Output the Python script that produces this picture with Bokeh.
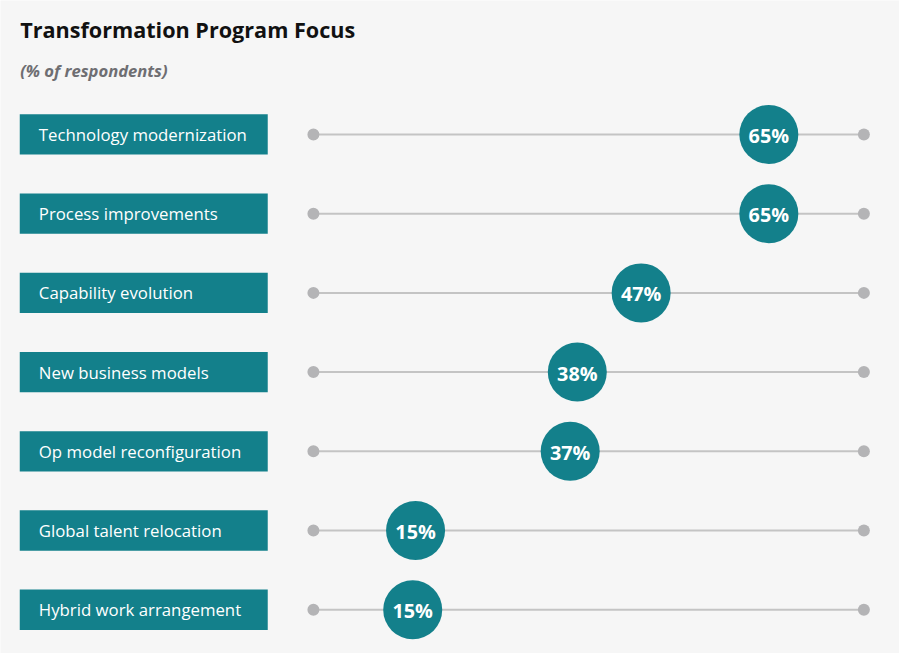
from bokeh.plotting import figure
from bokeh.models import Range1d, Label, ColumnDataSource
from bokeh.core.properties import value
from bokeh.embed import file_html
from bokeh.resources import INLINE

# ---- data ----
categories = [
    "Technology modernization",
    "Process improvements",
    "Capability evolution",
    "New business models",
    "Op model reconfiguration",
    "Global talent relocation",
    "Hybrid work arrangement",
]
values = [65, 65, 47, 38, 37, 15.2, 14.8]
value_labels = ["65%", "65%", "47%", "38%", "37%", "15%", "15%"]
track_start = 0.8
track_end = 78.4

title_text = "Transformation Program Focus"
subtitle_text = "(% of respondents)"

# ---- style / layout ----
W, H = 899, 653
SX, SY = W / 915, H / 669
BG = "#f6f6f6"
TEAL = "#13808b"
TRACK = "#c4c4c4"
DOT = "#b4b4b6"
FONT = "Open Sans"

scale = 7.22 * SX
off = 312.7 * SX
row_px0 = 137.2 * SY
row_step = 81.17 * SY

x0 = -off / scale
x1 = (W - off) / scale
y_top = -row_px0 / row_step
y_bot = (H - row_px0) / row_step

p = figure(width=W, height=H, output_backend="svg", toolbar_location=None,
           x_range=Range1d(x0, x1), y_range=Range1d(y_bot, y_top),
           min_border=0, min_border_left=0, min_border_right=0,
           min_border_top=0, min_border_bottom=0)
p.extra_x_ranges = {"px": Range1d(0, W)}
p.background_fill_color = BG
p.border_fill_color = BG
p.outline_line_color = None
p.axis.visible = False
p.grid.visible = False

n = len(categories)
rows = list(range(n))
half_h = 20.7 * SY / row_step
src = ColumnDataSource(dict(
    cat=categories, val=values, lab=value_labels, row=rows,
    ts=[track_start] * n, te=[track_end] * n,
    bl=[19.6 * SX] * n, br=[272 * SX] * n,
    bt=[r - half_h for r in rows], bb=[r + half_h for r in rows],
    tx=[39 * SX] * n,
))

# tracks
p.segment(x0="ts", y0="row", x1="te", y1="row", source=src,
          line_color=TRACK, line_width=2)
p.scatter(x="ts", y="row", source=src, size=12, fill_color=DOT, line_color=None)
p.scatter(x="te", y="row", source=src, size=12, fill_color=DOT, line_color=None)

# label boxes
p.quad(left="bl", right="br", top="bt", bottom="bb", source=src,
       fill_color=TEAL, line_color=None, x_range_name="px")
p.text(x="tx", y="row", text="cat", source=src, x_range_name="px",
       text_color="white", text_font=value(FONT), text_font_size="16.8px",
       text_baseline="middle", text_align="left")

# value bubbles
p.scatter(x="val", y="row", source=src, size=59, fill_color=TEAL, line_color=None)
p.text(x="val", y="row", text="lab", source=src,
       text_color="white", text_font=value(FONT), text_font_size="19.8px",
       text_font_style="bold", text_baseline="middle", text_align="center",
       y_offset=1)

# title / subtitle
p.add_layout(Label(x=20 * SX, y=H - 30 * SY, x_units="screen", y_units="screen",
                   text=title_text, text_font=FONT, text_font_size="21.6px",
                   text_font_style="bold", text_color="#111111",
                   text_baseline="alphabetic"))
p.add_layout(Label(x=20 * SX, y=H - 71.8 * SY, x_units="screen", y_units="screen",
                   text=subtitle_text, text_font=FONT, text_font_size="16.6px",
                   text_font_style="bold italic", text_color="#6e6e72",
                   text_baseline="alphabetic"))

open("out.html", "w").write(file_html(p, INLINE))
